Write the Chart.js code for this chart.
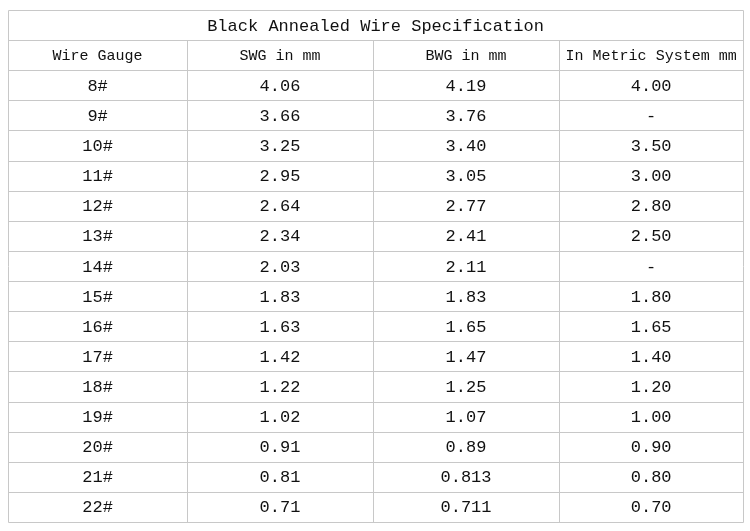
<!DOCTYPE html>
<html><head><meta charset="utf-8">
<script src="https://cdn.jsdelivr.net/npm/chart.js@4"></script>
<style>html,body{margin:0;padding:0;background:#fff}#c{display:block}</style>
</head><body>
<div style="width:750px;height:531px"><canvas id="c"></canvas></div>
<script>
const title = "Black Annealed Wire Specification";
const headers = ["Wire Gauge", "SWG in mm", "BWG in mm", "In Metric System mm"];
const gauges = ["8#","9#","10#","11#","12#","13#","14#","15#","16#","17#","18#","19#","20#","21#","22#"];
const swg = ["4.06","3.66","3.25","2.95","2.64","2.34","2.03","1.83","1.63","1.42","1.22","1.02","0.91","0.81","0.71"];
const bwg = ["4.19","3.76","3.40","3.05","2.77","2.41","2.11","1.83","1.65","1.47","1.25","1.07","0.89","0.813","0.711"];
const metric = ["4.00","-","3.50","3.00","2.80","2.50","-","1.80","1.65","1.40","1.20","1.00","0.90","0.80","0.70"];
const colEdges = [0, 0.975, 1.985, 3.0, 4.0];

const tablePlugin = {
  id: 'table',
  afterDraw(chart) {
    const ctx = chart.ctx, xs = chart.scales.x, ys = chart.scales.y;
    const X = v => xs.getPixelForValue(v), Y = v => ys.getPixelForValue(v);
    ctx.save();
    ctx.strokeStyle = '#c8c8c8'; ctx.lineWidth = 1;
    const line = (x1,y1,x2,y2)=>{ctx.beginPath();ctx.moveTo(Math.round(x1)+0.5,Math.round(y1)+0.5);ctx.lineTo(Math.round(x2)+0.5,Math.round(y2)+0.5);ctx.stroke();};
    for (let r = 0; r <= 17; r++) line(X(0), Y(r), X(4), Y(r));
    line(X(0), Y(0), X(0), Y(17)); line(X(4), Y(0), X(4), Y(17));
    for (let c = 1; c < 4; c++) line(X(colEdges[c]), Y(1), X(colEdges[c]), Y(17));
    ctx.fillStyle = '#111'; ctx.textAlign = 'center'; ctx.textBaseline = 'middle';
    ctx.font = '17px "Liberation Mono", "DejaVu Sans Mono", monospace';
    ctx.fillText(title, X(2), Y(0.5)+1);
    ctx.font = '15px "Liberation Mono", "DejaVu Sans Mono", monospace';
    headers.forEach((h,c)=>ctx.fillText(h, (X(colEdges[c])+X(colEdges[c+1]))/2, Y(1.5)+1));
    ctx.font = '17px "Liberation Mono", "DejaVu Sans Mono", monospace';
    const cols = [gauges, swg, bwg, metric];
    cols.forEach((arr,c)=>arr.forEach((v,i)=>{
      ctx.fillText(v, (X(colEdges[c])+X(colEdges[c+1]))/2, Y(2.5+i)+1);
    }));
    ctx.restore();
  }
};

new Chart(document.getElementById('c'), {
  type: 'scatter',
  data: { datasets: [{ data: [], pointRadius: 0 }] },
  options: {
    responsive: true, maintainAspectRatio: false, animation: false,
    layout: { padding: { left: 8, top: 10, right: 7, bottom: 9 } },
    plugins: { legend: { display: false }, tooltip: { enabled: false } },
    scales: {
      x: { type: 'linear', min: 0, max: 4, display: false },
      y: { type: 'linear', min: 0, max: 17, reverse: true, display: false }
    }
  },
  plugins: [tablePlugin]
});
</script>
</body></html>
